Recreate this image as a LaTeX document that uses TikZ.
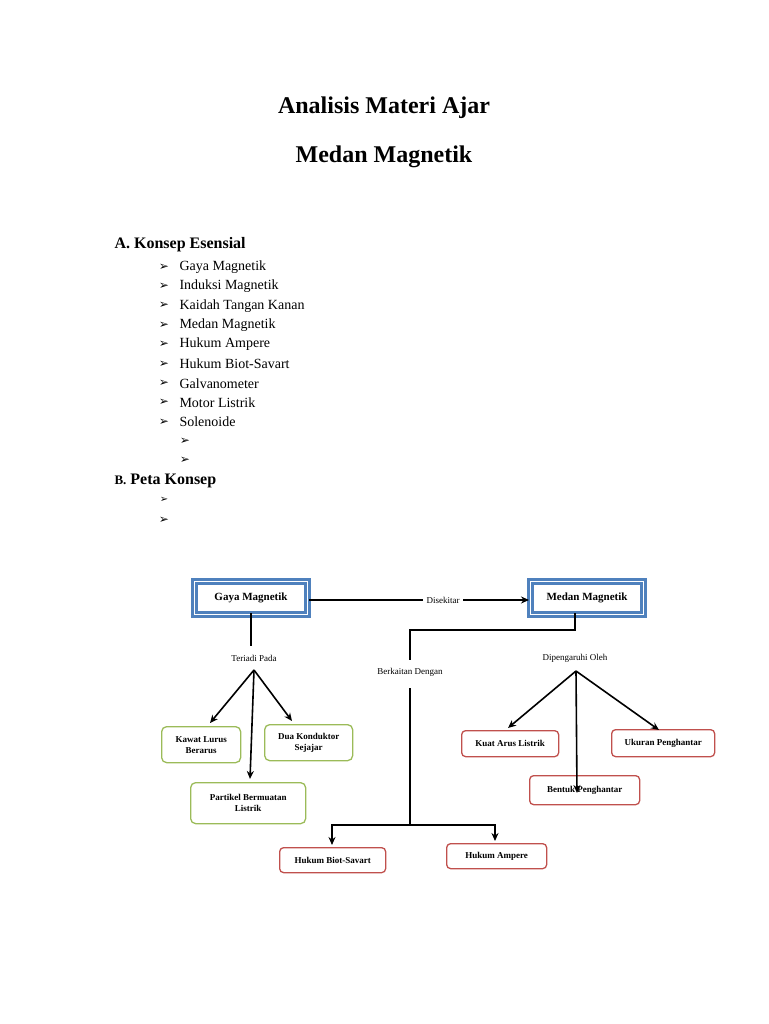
\documentclass[tikz,border=0pt]{standalone}
\usepackage{fontspec}
\setmainfont{Liberation Serif}
\newfontfamily\djv{DejaVu Sans}
\usetikzlibrary{arrows.meta}
\definecolor{bl}{HTML}{4F81BD}
\definecolor{gr}{HTML}{9BBB59}
\definecolor{rd}{HTML}{C0504D}
\begin{document}
\begin{tikzpicture}[x=1pt,y=-1pt,
  blue box/.style={draw=bl,line width=3pt,double=white,double distance=1.2pt,minimum width=113pt,minimum height=33pt,font=\fontsize{11}{12}\selectfont\bfseries,anchor=north west,inner sep=0pt},
  gbox/.style={draw=gr,line width=1.3pt,rounded corners=5pt,align=center,font=\fontsize{9}{11}\selectfont\bfseries,anchor=north west,inner sep=0pt},
  rbox/.style={draw=rd,line width=1.3pt,rounded corners=4pt,align=center,font=\fontsize{9}{11}\selectfont\bfseries,anchor=north west,inner sep=0pt},
  lab/.style={font=\fontsize{9}{11}\selectfont},
  li/.style={anchor=west,font=\fontsize{14}{16}\selectfont},
  bul/.style={anchor=center,font=\djv\fontsize{12}{14}\selectfont},
  arr/.style={-{Stealth[length=8pt,width=7pt]},line width=1.6pt},
  ln/.style={line width=1.6pt}]
\useasboundingbox (0,0) rectangle (768,1024);
\node[font=\fontsize{24}{28}\selectfont\bfseries] (t1) at (384,108) {Analisis Materi Ajar};
\node[font=\fontsize{24}{28}\selectfont\bfseries] (t2) at (384,157) {Medan Magnetik};
\node[anchor=west,font=\fontsize{16}{18}\selectfont\bfseries] (ha) at (111,245) {A.\ Konsep Esensial};
\foreach \t [count=\i] in {Gaya Magnetik,Induksi Magnetik,Kaidah Tangan Kanan,Medan Magnetik,Hukum Ampere,Hukum Biot-Savart,Galvanometer,Motor Listrik,Solenoide}{
  \node[bul] (b\i) at (164,{247.5+19.4*\i}) {➢};
  \node[li] (l\i) at (176,{247.5+19.4*\i}) {\t};
}
\node[bul] (e1) at (185,441) {➢};
\node[bul] (e2) at (185,460) {➢};
\node[anchor=west,font=\fontsize{16}{18}\selectfont\bfseries] (hb) at (111,481) {{\fontsize{13}{14}\selectfont B.}\ Peta Konsep};
\node[bul,font=\djv\fontsize{10}{12}\selectfont] (e3) at (164,500) {➢};
\node[bul] (e4) at (164,520) {➢};

% diagram
\node[blue box] (gm) at (193,580) {Gaya Magnetik};
\node[blue box] (mm) at (529,580) {Medan Magnetik};
\node[lab] (dk) at (443,600) {Disekitar};
\draw[ln] (gm.east |- 0,600) -- (dk.west);
\draw[arr] (dk.east) -- (mm.west |- 0,600);
\node[lab] (tp) at (254,658) {Teriadi Pada};
\draw[ln] (251,613) -- (251,646);
\coordinate (mj) at (575,630);
\draw[ln] (575,613) -- (mj) -- (410,630) -- (410,660);
\node[lab] (bd) at (410,672) {Berkaitan Dengan};
\node[lab] (dp) at (575,658) {Dipengaruhi Oleh};
\node[gbox,minimum width=79pt,minimum height=36pt] (kl) at (161,726) {Kawat Lurus\\Berarus};
\node[gbox,minimum width=88pt,minimum height=36pt] (dk2) at (264,724) {Dua Konduktor\\Sejajar};
\node[gbox,minimum width=115pt,minimum height=41pt] (pb) at (190,782) {Partikel Bermuatan\\Listrik};
\coordinate (tpo) at (254,670);
\draw[arr] (tpo) -- (210,723);
\draw[arr] (tpo) -- (250,779);
\draw[arr] (tpo) -- (292,721);
\node[rbox,minimum width=97pt,minimum height=26pt] (ka) at (461,730) {Kuat Arus Listrik};
\node[rbox,minimum width=103pt,minimum height=27pt] (up) at (611,729) {Ukuran Penghantar};
\node[rbox,minimum width=110pt,minimum height=29pt] (bp) at (529,775) {Bentuk Penghantar};
\coordinate (dpo) at (576,671);
\draw[arr] (dpo) -- (508,728);
\draw[arr] (dpo) -- (577,793);
\draw[arr] (dpo) -- (659,730);
\node[rbox,minimum width=106pt,minimum height=25pt] (hbs) at (279,847) {Hukum Biot-Savart};
\node[rbox,minimum width=100pt,minimum height=25pt] (ha2) at (446,843) {Hukum Ampere};
\coordinate (bj) at (410,825);
\draw[ln] (410,688) -- (bj);
\draw[arr] (bj) -- (332,825) -- (332,845);
\draw[arr] (bj) -- (495,825) -- (495,841);
\end{tikzpicture}
\end{document}
